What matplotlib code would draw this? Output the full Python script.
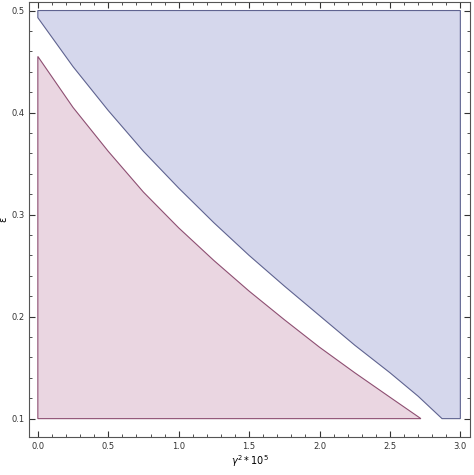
import matplotlib.pyplot as plt
from matplotlib.ticker import MultipleLocator

# curve samples
blue_x = [0.0, 0.25, 0.5, 0.75, 1.0, 1.25, 1.5, 1.75, 2.0, 2.25, 2.5, 2.7, 2.87]
blue_y = [0.493, 0.445, 0.402, 0.362, 0.326, 0.292, 0.260, 0.230, 0.201, 0.172, 0.145, 0.122, 0.100]
red_x = [0.0, 0.25, 0.5, 0.75, 1.0, 1.25, 1.5, 1.75, 2.0, 2.25, 2.5, 2.72]
red_y = [0.455, 0.405, 0.362, 0.322, 0.287, 0.255, 0.225, 0.197, 0.170, 0.145, 0.121, 0.100]
x_right = 3.0
y_top, y_bot = 0.5, 0.1

fig = plt.figure(figsize=(4.74, 4.75), dpi=100)
ax = fig.add_axes([0.062, 0.08, 0.93, 0.915])

bx = [0.0] + blue_x + [x_right, x_right, 0.0]
by = [y_top] + blue_y + [y_bot, y_top, y_top]
ax.fill(bx, by, facecolor="#d5d7ec", edgecolor="#5f6390", lw=0.8)
rx = [0.0] + red_x + [0.0]
ry = [y_bot] + red_y + [y_bot]
ax.fill(rx, ry, facecolor="#ead6e1", edgecolor="#8e4f72", lw=0.8)

ax.set_xlim(-0.06, 3.07)
ax.set_ylim(0.082, 0.508)
ax.set_xticks([0.0, 0.5, 1.0, 1.5, 2.0, 2.5, 3.0])
ax.set_yticks([0.1, 0.2, 0.3, 0.4, 0.5])
ax.xaxis.set_minor_locator(MultipleLocator(0.1))
ax.yaxis.set_minor_locator(MultipleLocator(0.02))
ax.tick_params(which="both", direction="in", top=True, right=True, labelsize=6, colors="#333333")
ax.tick_params(which="major", length=4)
ax.tick_params(which="minor", length=2)
ax.set_xlabel(r"$\gamma^2 * 10^5$", fontsize=7, family="serif", labelpad=2)
ax.set_ylabel("ε", fontsize=7, labelpad=2)
for s in ax.spines.values():
    s.set_color("#555555")

fig.savefig("out.png", dpi=100)
